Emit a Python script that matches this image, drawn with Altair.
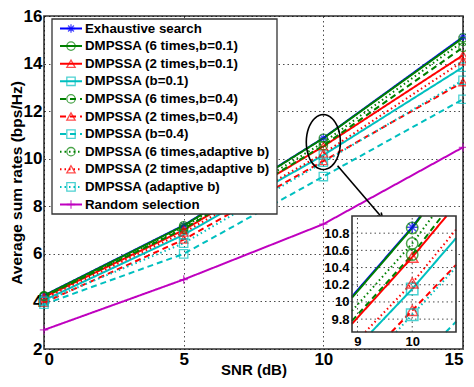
import altair as alt
import pandas as pd
import numpy as np

# ---------------- data ----------------
snr = [0, 5, 10, 15]
series_names = [
    "Exhaustive search",
    "DMPSSA (6 times,b=0.1)",
    "DMPSSA (2 times,b=0.1)",
    "DMPSSA (b=0.1)",
    "DMPSSA (6 times,b=0.4)",
    "DMPSSA (2 times,b=0.4)",
    "DMPSSA (b=0.4)",
    "DMPSSA (6 times,adaptive b)",
    "DMPSSA (2 times,adaptive b)",
    "DMPSSA (adaptive b)",
    "Random selection",
]
exhaustive = [4.25, 7.20, 10.87, 15.12]
dm6_b01 = [4.24, 7.18, 10.86, 15.08]
dm2_b01 = [4.18, 7.00, 10.52, 14.35]
dm_b01 = [4.05, 6.80, 10.15, 13.85]
dm6_b04 = [4.20, 7.05, 10.55, 14.68]
dm2_b04 = [3.95, 6.60, 9.90, 13.22]
dm_b04 = [3.88, 6.00, 9.25, 12.50]
dm6_ad = [4.22, 7.12, 10.68, 14.93]
dm2_ad = [4.12, 6.90, 10.22, 14.10]
dm_ad = [4.00, 6.45, 9.85, 13.30]
random_sel = [2.80, 4.92, 7.25, 10.48]
values = [exhaustive, dm6_b01, dm2_b01, dm_b01, dm6_b04, dm2_b04, dm_b04,
          dm6_ad, dm2_ad, dm_ad, random_sel]

x_ticks = [0, 5, 10, 15]
y_ticks = [2, 4, 6, 8, 10, 12, 14, 16]
inset_x_ticks = [9, 10]
inset_y_ticks = [9.8, 10.0, 10.2, 10.4, 10.6, 10.8]
inset_x_dom = [8.9, 10.8]
inset_y_dom = [9.65, 11.0]

# ---------------- styles ----------------
BLUE, GREEN, RED, CYAN, MAG = "#0000ff", "#008000", "#ff0000", "#00bfbf", "#bf00bf"
colors = [BLUE, GREEN, RED, CYAN, GREEN, RED, CYAN, GREEN, RED, CYAN, MAG]
SOLID, DASH, DOT = [1, 0], [6, 4], [1.5, 3]
dashes = [SOLID, SOLID, SOLID, SOLID, DASH, DASH, DASH, DOT, DOT, DOT, SOLID]
widths = [2, 2, 1.8, 1.6, 2, 2, 2, 1.4, 1.4, 1.4, 1.6]
ASTER = "M-1,0L1,0M0,-1L0,1M-0.7,-0.7L0.7,0.7M-0.7,0.7L0.7,-0.7"
PLUS = "M-1,0L1,0M0,-1L0,1"
shapes = [ASTER, "circle", "triangle-up", "square", "circle", "triangle-up",
          "square", "circle", "triangle-up", "square", PLUS]

color_enc = alt.Color("series:N", scale=alt.Scale(domain=series_names, range=colors), legend=None)
dash_enc = alt.StrokeDash("series:N", scale=alt.Scale(domain=series_names, range=dashes), legend=None)
width_enc = alt.StrokeWidth("series:N", scale=alt.Scale(domain=series_names, range=widths), legend=None)
shape_enc = alt.Shape("series:N", scale=alt.Scale(domain=series_names, range=shapes), legend=None)

rows = []
for name, vals in zip(series_names, values):
    for s, v in zip(snr, vals):
        rows.append({"series": name, "snr": s, "value": v})
df = pd.DataFrame(rows)

FONT = "Liberation Sans"
H = 333  # plot height
TOP = 8

# ---------------- main plot ----------------
x_axis = alt.Axis(values=x_ticks, title="SNR (dB)", grid=True, gridColor="black",
                  gridDash=[1.5, 3], gridOpacity=0.7, ticks=False, domain=False,
                  labelFontSize=17, labelFontWeight="bold", labelFont=FONT,
                  labelPadding=2, titleFontSize=15, titleFontWeight="bold",
                  titleFont=FONT, titlePadding=-5, labelColor="black", titleColor="black")
y_axis = alt.Axis(values=y_ticks, title="Average sum rates (bps/Hz)", grid=True,
                  gridColor="black", gridDash=[1.5, 3], gridOpacity=0.7, ticks=False,
                  domain=False, labelFontSize=17, labelFontWeight="bold", labelFont=FONT,
                  labelPadding=2, titleFontSize=15.5, titleFontWeight="bold",
                  titleFont=FONT, titlePadding=-1, labelColor="black", titleColor="black")
X = alt.X("snr:Q", scale=alt.Scale(domain=[0, 15], nice=False, zero=False), axis=x_axis)
Y = alt.Y("value:Q", scale=alt.Scale(domain=[2, 16], nice=False, zero=False), axis=y_axis)

lines = alt.Chart(df).mark_line().encode(
    x=X, y=Y, color=color_enc, strokeDash=dash_enc, strokeWidth=width_enc,
    order=alt.Order("snr:Q"))
points = alt.Chart(df).mark_point(filled=False, size=70, strokeWidth=1.3).encode(
    x=X, y=Y, color=color_enc, shape=shape_enc)

# ellipse annotation and arrow
t = np.linspace(0, 2 * np.pi, 49)
ell_path = "M" + "L".join(f"{0.62*np.cos(a):.3f},{np.sin(a):.3f}" for a in t) + "Z"
ell_df = pd.DataFrame({"snr": [10.0], "value": [10.7]})
ellipse = alt.Chart(ell_df).mark_point(shape=ell_path, size=3025, filled=False,
                                       color="black", strokeWidth=1.6, opacity=1).encode(x=X, y=Y)
arrow_df = pd.DataFrame({"snr": [10.51], "value": [9.7], "snr2": [12.12], "value2": [7.5]})
arrow_line = alt.Chart(arrow_df).mark_rule(color="black", strokeWidth=1.6).encode(
    x=X, y=Y, x2="snr2:Q", y2="value2:Q")
head = alt.Chart(arrow_df).mark_point(shape="M-0.5,1L0,0L0.5,1", size=110, filled=False,
                                      color="black", strokeWidth=1.6, angle=140, opacity=1).encode(
    x=alt.X("snr2:Q", scale=alt.Scale(domain=[0, 15], nice=False, zero=False), axis=x_axis),
    y=alt.Y("value2:Q", scale=alt.Scale(domain=[2, 16], nice=False, zero=False), axis=y_axis))

main = alt.layer(lines, points, ellipse, arrow_line, head)

# ---------------- inset ----------------
def clip_segment(x0, y0, x1, y1, xmin, xmax, ymin, ymax):
    dx, dy = x1 - x0, y1 - y0
    t0, t1 = 0.0, 1.0
    for p, q in ((-dx, x0 - xmin), (dx, xmax - x0), (-dy, y0 - ymin), (dy, ymax - y0)):
        if p == 0:
            if q < 0:
                return None
        else:
            r = q / p
            if p < 0:
                t0 = max(t0, r)
            else:
                t1 = min(t1, r)
    if t0 > t1:
        return None
    return (x0 + t0 * dx, y0 + t0 * dy, x0 + t1 * dx, y0 + t1 * dy)

seg_rows = []
for name, vals in zip(series_names, values):
    for i in range(len(snr) - 1):
        c = clip_segment(snr[i], vals[i], snr[i + 1], vals[i + 1],
                         inset_x_dom[0], inset_x_dom[1], inset_y_dom[0], inset_y_dom[1])
        if c:
            sid = f"{name}-{i}"
            seg_rows.append({"series": name, "seg": sid, "ord": 0, "ix": c[0], "iy": c[1]})
            seg_rows.append({"series": name, "seg": sid, "ord": 1, "ix": c[2], "iy": c[3]})
seg_df = pd.DataFrame(seg_rows)
ipts = df[(df.snr >= inset_x_dom[0]) & (df.snr <= inset_x_dom[1]) &
          (df.value >= inset_y_dom[0]) & (df.value <= inset_y_dom[1])].rename(
    columns={"snr": "ix", "value": "iy"})

IB = 316  # inset bottom (px in plot)
IT = 200  # inset top
ix_axis = alt.Axis(values=inset_x_ticks, orient="bottom", offset=-(H - IB), grid=False,
                   domain=False, ticks=False, labelFontSize=13, labelFontWeight="bold",
                   labelFont=FONT, labelPadding=3, title=None, labelColor="black",
                   format="d")
iy_axis = alt.Axis(values=inset_y_ticks, orient="left", offset=-308, grid=False,
                   domain=False, ticks=False, labelFontSize=13, labelFontWeight="bold",
                   labelFont=FONT, labelPadding=3, title=None, labelColor="black",
                   labelExpr="datum.value == 10 ? '10' : format(datum.value, '.1f')")
IX = alt.X("ix:Q", scale=alt.Scale(domain=inset_x_dom, range=[308, 412], nice=False, zero=False),
           axis=ix_axis)
IY = alt.Y("iy:Q", scale=alt.Scale(domain=inset_y_dom, range=[IB, IT], nice=False, zero=False),
           axis=iy_axis)
IX2 = alt.X2("ix2:Q")
IY2 = alt.Y2("iy2:Q")

box_df = pd.DataFrame({"ix": [inset_x_dom[0]], "ix2": [inset_x_dom[1]],
                       "iy": [inset_y_dom[0]], "iy2": [inset_y_dom[1]]})
inset_box_fill = alt.Chart(box_df).mark_rect(fill="white", stroke=None).encode(
    x=IX, x2=IX2, y=IY, y2=IY2)
inset_box_frame = alt.Chart(box_df).mark_rect(fill=None, stroke="#333333",
                                              strokeWidth=1.6).encode(
    x=IX, x2=IX2, y=IY, y2=IY2)
vg_df = pd.DataFrame({"ix": inset_x_ticks, "iy": [inset_y_dom[0]] * len(inset_x_ticks),
                      "iy2": [inset_y_dom[1]] * len(inset_x_ticks)})
hg_df = pd.DataFrame({"iy": inset_y_ticks, "ix": [inset_x_dom[0]] * len(inset_y_ticks),
                      "ix2": [inset_x_dom[1]] * len(inset_y_ticks)})
vgrid = alt.Chart(vg_df).mark_rule(color="black", strokeDash=[1.5, 3], opacity=0.7).encode(
    x=IX, y=IY, y2=IY2)
hgrid = alt.Chart(hg_df).mark_rule(color="black", strokeDash=[1.5, 3], opacity=0.7).encode(
    y=IY, x=IX, x2=IX2)
ilines = alt.Chart(seg_df).mark_line().encode(
    x=IX, y=IY, color=color_enc, strokeDash=dash_enc, strokeWidth=width_enc,
    detail="seg:N", order=alt.Order("ord:Q"))
ipoints = alt.Chart(ipts).mark_point(filled=False, size=130, strokeWidth=1.5).encode(
    x=IX, y=IY, color=color_enc, shape=shape_enc)

inset = alt.layer(inset_box_fill, vgrid, hgrid, ilines, ipoints, inset_box_frame)

# ---------------- legend (drawn) ----------------
n = len(series_names)
leg_df = pd.DataFrame({
    "series": series_names,
    "ly": [12.5 + i * 17.6 for i in range(n)],
    "lx1": [16] * n, "lx2": [38] * n, "lxm": [27] * n, "lxt": [41] * n,
})
LX_SCALE = alt.Scale(domain=[0, 419], range=[0, 419], nice=False, zero=False)
LY_SCALE = alt.Scale(domain=[0, H], range=[0, H], nice=False, zero=False)
LY = alt.Y("ly:Q", scale=LY_SCALE, axis=None)
lbox_df = pd.DataFrame({"lx1": [8], "lx2": [233], "ly": [3], "ly2": [198]})
leg_box = alt.Chart(lbox_df).mark_rect(fill="white", stroke="#333333", strokeWidth=1.3).encode(
    x=alt.X("lx1:Q", scale=LX_SCALE, axis=None), x2="lx2:Q",
    y=LY, y2="ly2:Q")
leg_lines = alt.Chart(leg_df).mark_rule().encode(
    x=alt.X("lx1:Q", scale=LX_SCALE, axis=None), x2="lx2:Q", y=LY,
    color=color_enc, strokeDash=dash_enc, strokeWidth=width_enc)
leg_pts = alt.Chart(leg_df).mark_point(filled=False, size=70, strokeWidth=1.3).encode(
    x=alt.X("lxm:Q", scale=LX_SCALE, axis=None), y=LY, color=color_enc, shape=shape_enc)
leg_txt = alt.Chart(leg_df).mark_text(align="left", baseline="middle", fontSize=13.3,
                                      fontWeight="bold", font=FONT, color="black").encode(
    x=alt.X("lxt:Q", scale=LX_SCALE, axis=None), y=LY, text="series:N")
legend = alt.layer(leg_box, leg_lines, leg_pts, leg_txt)

chart = alt.layer(main, inset, legend).resolve_scale(
    x="independent", y="independent"
).properties(
    width=419, height=H,
    padding={"left": 36, "top": TOP, "right": 3, "bottom": 30},
    autosize=alt.AutoSizeParams(type="none"),
).configure_view(stroke="#333333", strokeWidth=1.6)

chart.save("out.html", embed_options={"renderer": "svg", "actions": False})
